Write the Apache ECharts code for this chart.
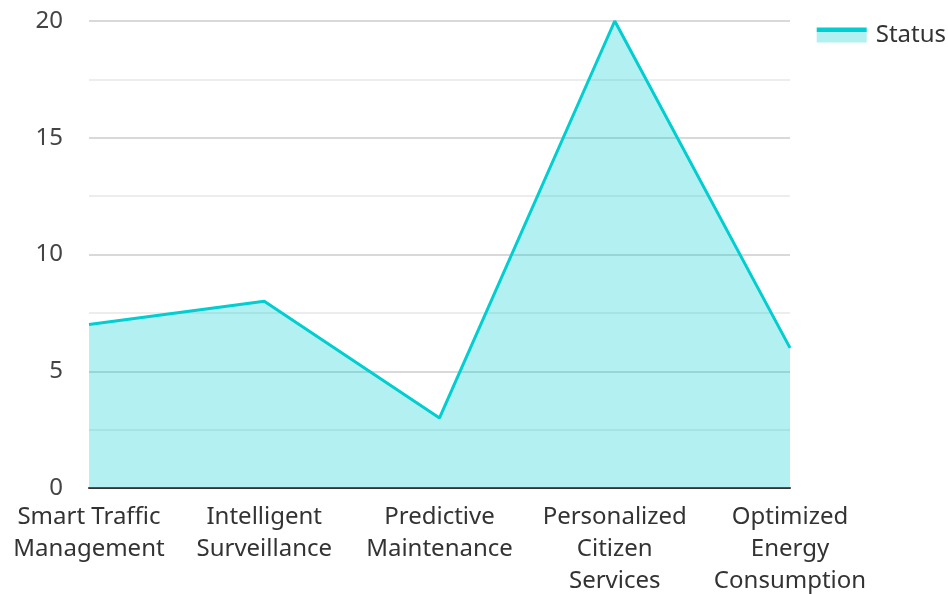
<!DOCTYPE html>
<html><head><meta charset="utf-8">
<script src="https://cdn.jsdelivr.net/npm/echarts@6/dist/echarts.min.js"></script>
<style>html,body{margin:0;padding:0;background:#fff}#c{width:948px;height:594px}</style>
</head><body><div id="c"></div>
<script>
const categories = ["Smart Traffic\nManagement", "Intelligent\nSurveillance", "Predictive\nMaintenance", "Personalized\nCitizen\nServices", "Optimized\nEnergy\nConsumption"];
const statusValues = [7, 8, 3, 20, 6];
const yTicks = [0, 5, 10, 15, 20];

const chart = echarts.init(document.getElementById('c'), null, {renderer: 'canvas'});
chart.setOption({
  animation: false,
  textStyle: {fontFamily: 'Noto Sans'},
  grid: {left: 89, right: 158, top: 21, bottom: 106, containLabel: false, outerBoundsMode: 'none'},
  legend: {
    right: -3, top: 18, itemWidth: 50, itemHeight: 15, itemGap: 10,
    textStyle: {fontSize: 24, color: '#333', fontFamily: 'Noto Sans', padding: [0, 0, 0, 4]},
    data: [{
      name: 'Status', icon: 'rect',
      itemStyle: {
        color: new echarts.graphic.LinearGradient(0, 0, 0, 1, [
          {offset: 0, color: '#00CED1'}, {offset: 0.27, color: '#00CED1'},
          {offset: 0.27, color: 'rgba(0,206,209,0.3)'}, {offset: 1, color: 'rgba(0,206,209,0.3)'}
        ])
      }
    }]
  },
  xAxis: {
    type: 'category', data: categories, boundaryGap: false,
    axisLine: {lineStyle: {color: '#333', width: 2}},
    axisTick: {show: false},
    axisLabel: {fontSize: 24, color: '#333', lineHeight: 32, margin: 13, interval: 0, fontFamily: 'Noto Sans'},
    splitLine: {show: false}
  },
  yAxis: {
    type: 'value', min: yTicks[0], max: yTicks[yTicks.length - 1], interval: 5,
    axisLine: {show: false}, axisTick: {show: false},
    axisLabel: {fontSize: 24, color: '#444', margin: 26, fontFamily: 'Noto Sans'},
    splitLine: {lineStyle: {color: '#ccc', width: 1.5}},
    minorTick: {show: false, splitNumber: 2},
    minorSplitLine: {show: true, lineStyle: {color: '#e8e8e8', width: 1.5}}
  },
  series: [{
    name: 'Status', type: 'line', data: statusValues,
    showSymbol: false, symbol: 'none',
    lineStyle: {color: '#00CED1', width: 3},
    itemStyle: {color: '#00CED1'},
    areaStyle: {color: '#00CED1', opacity: 0.3}
  }]
});
</script></body></html>
